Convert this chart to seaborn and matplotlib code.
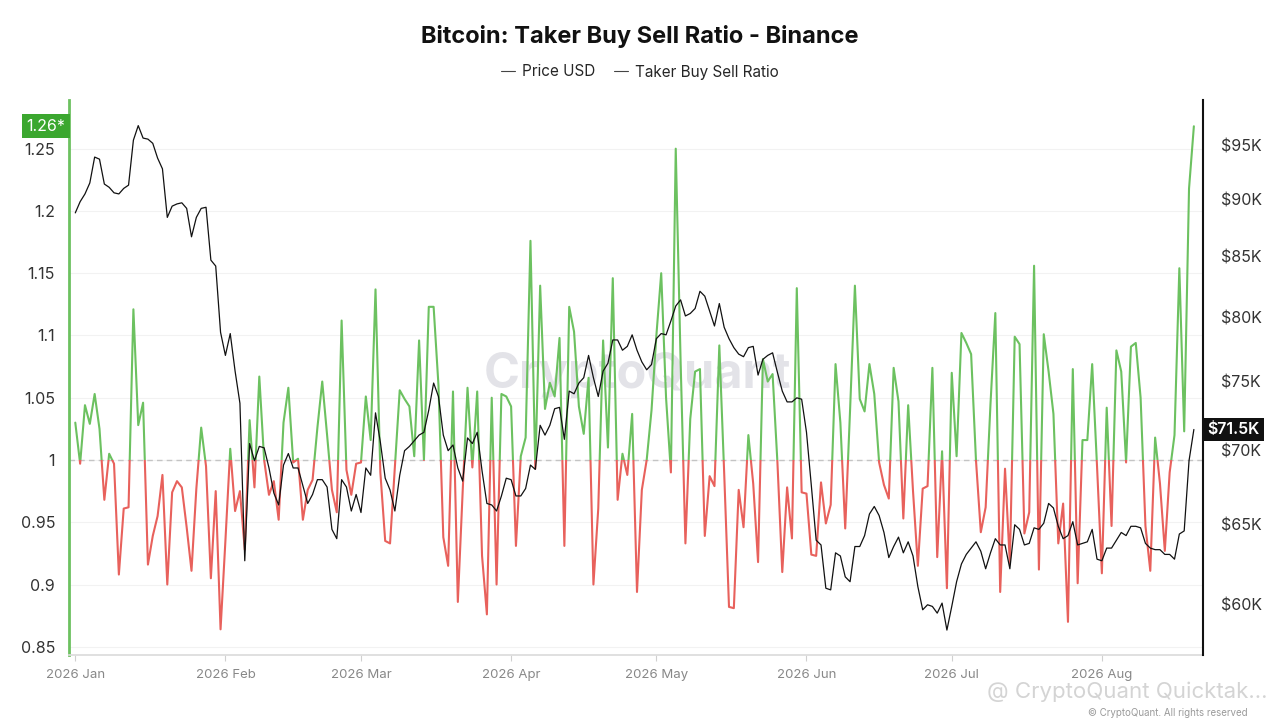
import matplotlib
matplotlib.use('Agg')
import matplotlib.pyplot as plt
import matplotlib.dates as mdates
import matplotlib.ticker as mticker
import matplotlib.transforms as mtransforms
from matplotlib.patches import Rectangle
from matplotlib.lines import Line2D
import seaborn as sns
import pandas as pd
import numpy as np

# daily series, starting 2026-01-01
start_date = '2026-01-01'

ratio_values = [
    1.030, 0.997, 1.044, 1.029, 1.053, 1.025, 0.968, 1.005, 0.997, 0.908,
    0.961, 0.962, 1.121, 1.028, 1.046, 0.916, 0.939, 0.955, 0.988, 0.900,
    0.974, 0.983, 0.978, 0.946, 0.911, 0.977, 1.026, 0.995, 0.905, 0.975,
    0.864, 0.935, 1.009, 0.959, 0.975, 0.928, 1.032, 0.978, 1.067, 1.000,
    0.972, 0.983, 0.952, 1.030, 1.058, 0.998, 1.001, 0.952, 0.976, 0.984,
    1.026, 1.063, 1.020, 0.976, 0.958, 1.112, 0.992, 0.972, 0.997, 0.998,
    1.051, 1.016, 1.137, 0.990, 0.935, 0.933, 0.995, 1.056, 1.049, 1.043,
    1.003, 1.096, 1.000, 1.123, 1.123, 1.060, 0.938, 0.915, 1.055, 0.886,
    0.975, 1.058, 0.994, 1.055, 0.923, 0.876, 1.050, 0.900, 1.053, 1.051,
    1.043, 0.931, 1.003, 1.018, 1.176, 0.993, 1.140, 1.041, 1.062, 1.051,
    1.098, 0.931, 1.123, 1.103, 1.043, 1.021, 1.066, 0.900, 0.961, 1.096,
    1.010, 1.146, 0.968, 1.005, 0.988, 1.037, 0.894, 0.976, 1.000, 1.040,
    1.100, 1.150, 1.050, 0.990, 1.250, 1.080, 0.933, 1.033, 1.071, 1.073,
    0.939, 0.987, 0.979, 1.092, 0.990, 0.882, 0.881, 0.976, 0.946, 1.020,
    0.981, 0.918, 1.081, 1.063, 1.069, 0.998, 0.910, 0.978, 0.937, 1.138,
    0.974, 0.973, 0.924, 0.923, 0.982, 0.949, 0.964, 1.077, 1.030, 0.945,
    1.040, 1.140, 1.049, 1.039, 1.077, 1.053, 0.998, 0.980, 0.969, 1.074,
    1.047, 0.953, 1.044, 0.975, 0.915, 0.977, 0.979, 1.074, 0.922, 1.007,
    0.897, 1.070, 1.003, 1.102, 1.094, 1.085, 1.000, 0.942, 0.962, 1.045,
    1.118, 0.894, 0.993, 0.917, 1.099, 1.093, 0.941, 0.958, 1.156, 0.912,
    1.101, 1.071, 1.037, 0.933, 0.965, 0.870, 1.073, 0.901, 1.016, 1.016,
    1.077, 0.995, 0.909, 1.042, 0.947, 1.088, 1.071, 0.998, 1.091, 1.094,
    1.050, 0.947, 0.911, 1.018, 0.981, 0.927, 0.990, 1.020, 1.154, 1.023,
    1.218, 1.268,
]

price_k = [
    88.8, 89.8, 90.5, 91.5, 93.9, 93.7, 91.4, 91.1, 90.6, 90.5,
    91.0, 91.3, 95.5, 96.9, 95.7, 95.6, 95.2, 93.8, 92.8, 88.4,
    89.4, 89.6, 89.7, 89.2, 86.7, 88.4, 89.2, 89.3, 84.7, 84.2,
    78.8, 77.0, 78.7, 75.8, 73.4, 62.7, 70.5, 69.3, 70.3, 70.2,
    68.8, 67.1, 66.3, 69.0, 69.8, 68.8, 68.8, 67.6, 66.4, 67.0,
    68.0, 68.0, 67.5, 64.7, 64.1, 68.0, 67.5, 65.9, 67.0, 65.8,
    68.8, 68.3, 72.7, 70.6, 68.1, 67.3, 65.9, 68.3, 70.0, 70.3,
    70.7, 71.1, 71.3, 72.9, 74.9, 73.9, 71.1, 70.0, 70.4, 68.8,
    67.9, 70.9, 70.5, 71.3, 68.6, 66.4, 66.3, 65.9, 66.9, 68.1,
    68.0, 66.9, 66.9, 67.4, 69.0, 68.7, 71.8, 71.1, 71.8, 73.0,
    73.1, 70.8, 74.3, 74.1, 74.9, 75.3, 77.0, 75.3, 73.9, 75.8,
    76.4, 78.2, 78.2, 77.4, 77.7, 78.6, 77.4, 76.5, 75.9, 76.3,
    78.3, 78.7, 78.6, 79.7, 80.9, 81.4, 80.1, 80.3, 80.7, 82.1,
    81.7, 80.5, 79.3, 81.1, 79.2, 78.3, 77.6, 77.1, 76.9, 77.6,
    77.7, 75.5, 76.7, 77.0, 77.2, 75.7, 74.3, 73.5, 73.5, 73.8,
    73.7, 71.3, 67.6, 64.0, 63.7, 61.0, 60.9, 63.2, 63.0, 61.7,
    61.4, 63.6, 63.6, 64.3, 65.7, 66.2, 65.6, 64.5, 62.9, 63.6,
    64.2, 63.2, 63.9, 63.0, 61.1, 59.7, 60.0, 59.9, 59.5, 60.1,
    58.5, 59.9, 61.4, 62.5, 63.1, 63.5, 63.9, 63.3, 62.2, 63.2,
    64.1, 63.7, 63.7, 62.2, 65.0, 64.7, 63.7, 63.8, 64.8, 64.7,
    65.1, 66.4, 66.1, 64.9, 64.1, 64.3, 65.2, 63.7, 63.8, 63.9,
    64.7, 62.8, 62.7, 63.5, 63.5, 64.0, 64.5, 64.3, 64.9, 64.9,
    64.8, 63.8, 63.5, 63.4, 63.4, 63.1, 63.1, 62.8, 64.4, 64.6,
    69.3, 71.5,
]

ratio_ticks = [0.85, 0.9, 0.95, 1.0, 1.05, 1.1, 1.15, 1.2, 1.25]
ratio_tick_labels = ['0.85', '0.9', '0.95', '1', '1.05', '1.1', '1.15', '1.2', '1.25']
price_ticks_k = [60, 65, 70, 75, 80, 85, 90, 95]

dates = pd.date_range(start_date, periods=len(ratio_values), freq='D')
df = pd.DataFrame({'date': dates, 'ratio': ratio_values,
                   'price': np.array(price_k) * 1000})

sns.set_theme(style='white')
plt.rcParams['font.family'] = ['Inter', 'DejaVu Sans']

green = '#6cc160'
red = '#e8615c'

fig = plt.figure(figsize=(12.8, 7.2), dpi=100)
ax = fig.add_axes([0.0539, 0.0903, 0.886, 0.771])
ax2 = ax.twinx()

# ratio line, green above 1 and red below 1 (same line clipped twice)
sns.lineplot(data=df, x='date', y='ratio', ax=ax, color=green, lw=1.5)
sns.lineplot(data=df, x='date', y='ratio', ax=ax, color=red, lw=1.5)
up_line, down_line = ax.lines[-2], ax.lines[-1]
x0 = mdates.date2num(dates[0]) - 50
up_line.set_clip_path(Rectangle((x0, 1.0), 400, 10, transform=ax.transData))
down_line.set_clip_path(Rectangle((x0, -10), 400, 11.0, transform=ax.transData))

ax.axhline(1.0, color='#c4c4c4', lw=1, ls=(0, (4, 3)), zorder=1)

ax.set_ylim(0.8434, 1.2892)
ax.set_yticks(ratio_ticks)
ax.set_yticklabels(ratio_tick_labels)
ax.grid(axis='y', color='#f2f2f2', lw=0.8)
ax.grid(axis='x', visible=False)
ax.set_xlim(dates[0] - pd.Timedelta(days=1.3), dates[0] + pd.Timedelta(days=232.9))
ax.xaxis.set_major_locator(mdates.MonthLocator())
ax.xaxis.set_major_formatter(mdates.DateFormatter('%Y %b'))
ax.set_xlabel('')
ax.set_ylabel('')

# price on right log axis
sns.lineplot(data=df, x='date', y='price', ax=ax2, color='#111111', lw=0.9)
ax2.set_yscale('log')
ax2.set_ylim(57060, 99430)
ax2.yaxis.set_major_locator(mticker.FixedLocator([p * 1000 for p in price_ticks_k]))
ax2.yaxis.set_minor_locator(mticker.NullLocator())
ax2.yaxis.set_major_formatter(mticker.FuncFormatter(lambda v, p: f'${v / 1000:.0f}K'))
ax2.set_ylabel('')
ax2.set_xlabel('')
ax2.grid(False)

for s in ['top', 'right']:
    ax.spines[s].set_visible(False)
ax.spines['left'].set_color(green)
ax.spines['left'].set_linewidth(2)
ax.spines['bottom'].set_color('#dcdcdc')
for s in ['top', 'left', 'bottom']:
    ax2.spines[s].set_visible(False)
ax2.spines['right'].set_color('#111111')
ax2.spines['right'].set_linewidth(1.5)

ax.tick_params(axis='y', length=0, pad=10, labelsize=11.5, labelcolor='#333333')
ax2.tick_params(axis='y', length=0, pad=13, labelsize=11.5, labelcolor='#333333')
ax.tick_params(axis='x', length=4, color='#d0d0d0', width=0.8, bottom=True,
               labelsize=9.5, labelcolor='#888888', pad=6)

# last value badges
trans_l = mtransforms.blended_transform_factory(ax.transAxes, ax.transData)
ax.text(-0.003, ratio_values[-1], '1.26*', transform=trans_l, ha='right', va='center',
        color='white', fontsize=11.5, clip_on=False,
        bbox=dict(boxstyle='square,pad=0.28', fc='#3ba72f', ec='none'))
trans_r = mtransforms.blended_transform_factory(ax2.transAxes, ax2.transData)
ax2.text(1.004, price_k[-1] * 1000, '$71.5K', transform=trans_r, ha='left', va='center',
         color='white', fontsize=11.5, weight='semibold', clip_on=False,
         bbox=dict(boxstyle='square,pad=0.28', fc='#111111', ec='none'))

# watermark
ax.text(0.501, 0.505, 'CryptoQuant', transform=ax.transAxes, ha='center', va='center',
        fontsize=35, weight='bold', color='#e3e3e8', zorder=0)

fig.text(0.5, 1 - 37 / 720, 'Bitcoin: Taker Buy Sell Ratio - Binance', ha='center',
         va='center', fontsize=17, weight='bold', color='#111111')
handles = [Line2D([], [], color='#444444', lw=0.8), Line2D([], [], color='#444444', lw=0.8)]
fig.legend(handles, ['Price USD', 'Taker Buy Sell Ratio'], loc='center',
           bbox_to_anchor=(0.5, 1 - 72 / 720), ncol=2, frameon=False, fontsize=11,
           handlelength=0.9, handletextpad=0.5, columnspacing=1.2)

fig.text(0.99, 1 - 692 / 720, '@ CryptoQuant Quicktak...', ha='right', va='center',
         fontsize=16, color='#d4d4d4')
fig.text(0.975, 1 - 713 / 720, '© CryptoQuant. All rights reserved', ha='right',
         va='center', fontsize=7, color='#9a9a9a')

fig.savefig('out.png', dpi=100)
